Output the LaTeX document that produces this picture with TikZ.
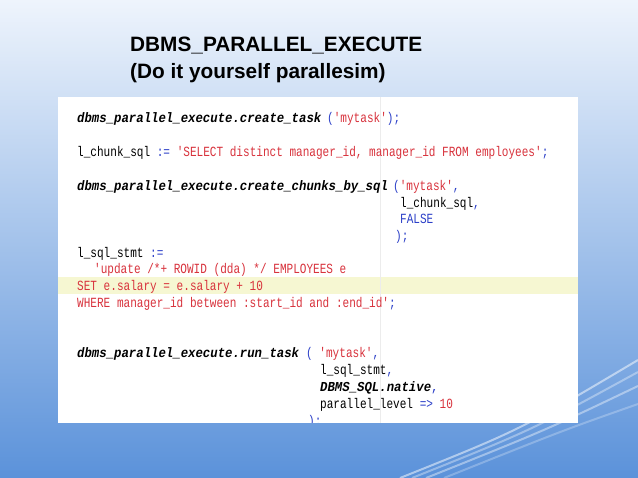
\documentclass[tikz,border=0pt]{standalone}
\usepackage{fontspec}
\setmainfont{Liberation Sans}
\setmonofont{Liberation Mono}
\newfontfamily\codefont[FakeStretch=0.79]{Liberation Mono}
\newfontfamily\fnfont[FakeStretch=0.9]{Liberation Mono}
\begin{document}
\begin{tikzpicture}[x=1pt,y=-1pt,
  code/.style={font=\codefont\fontsize{14}{15}\selectfont, anchor=base west, inner sep=0pt},
  fn/.style={code, font=\fnfont\bfseries\itshape\fontsize{13.7}{15}\selectfont},
  title/.style={font=\bfseries\fontsize{20.8}{24}\selectfont, anchor=base west, inner sep=0pt}]
\definecolor{bgtop}{HTML}{EEF4FC}
\definecolor{bgmid}{HTML}{A9C8EE}
\definecolor{bgbot}{HTML}{5B92DA}
\definecolor{str}{HTML}{D8323C}
\definecolor{pun}{HTML}{2B3FC8}
\definecolor{hl}{HTML}{F6F7D2}
\useasboundingbox (0,0) rectangle (638,478);
\shade[top color=bgtop, middle color=bgmid, bottom color=bgbot] (0,0) rectangle (638,478);
\foreach \a/\o in {0/0.5,12/0.35,26/0.4,44/0.25}
  \draw[white, line width=2, opacity=\o] (400+\a,478) .. controls (520+\a,430) .. (638,360+\a);
% panel
\fill[white] (58,97) rectangle (578,423);
\fill[hl] (58,277) rectangle (578,294);
\draw[gray!15] (380,97) -- (380,423);
% title
\node[title] (t1) at (130,52) {DBMS\_PARALLEL\_EXECUTE};
\node[title] (t2) at (130,79) {(Do it yourself parallesim)};
% code
\node[fn] (a1) at (77,123) {dbms\_parallel\_execute.create\_task};
\node[code, pun] (a2) at (327,123) {(\textcolor{str}{'mytask'});};
\node[code] (b1) at (77,157) {l\_chunk\_sql \textcolor{pun}{:=} \textcolor{str}{'SELECT distinct manager\_id, manager\_id FROM employees'}\textcolor{pun}{;}};
\node[fn] (c1) at (77,191) {dbms\_parallel\_execute.create\_chunks\_by\_sql};
\node[code, pun] (c2) at (393,191) {(\textcolor{str}{'mytask'},};
\node[code] (c3) at (400,208) {l\_chunk\_sql\textcolor{pun}{,}};
\node[code, pun] (c4) at (400,224) {FALSE};
\node[code, pun] (c5) at (395,241) {);};
\node[code] (d1) at (77,258) {l\_sql\_stmt \textcolor{pun}{:=}};
\node[code, str] (d2) at (94,274) {'update /*+ ROWID (dda) */ EMPLOYEES e};
\node[code, str] (d3) at (77,291) {SET e.salary = e.salary + 10};
\node[code, str] (d4) at (77,308) {WHERE manager\_id between :start\_id and :end\_id'\textcolor{pun}{;}};
\node[fn] (e1) at (77,358) {dbms\_parallel\_execute.run\_task};
\node[code, pun] (e2) at (306,358) {( \textcolor{str}{'mytask'},};
\node[code] (e3) at (320,375) {l\_sql\_stmt\textcolor{pun}{,}};
\node[fn] (e4) at (320,392) {DBMS\_SQL.native\textcolor{pun}{\mdseries\upshape,}};
\node[code] (e5) at (320,409) {parallel\_level \textcolor{pun}{=>} \textcolor{str}{10}};
\begin{scope}
\clip (58,97) rectangle (578,423);
\node[code, pun] (e6) at (308,426) {);};
\end{scope}
\end{tikzpicture}
\end{document}
